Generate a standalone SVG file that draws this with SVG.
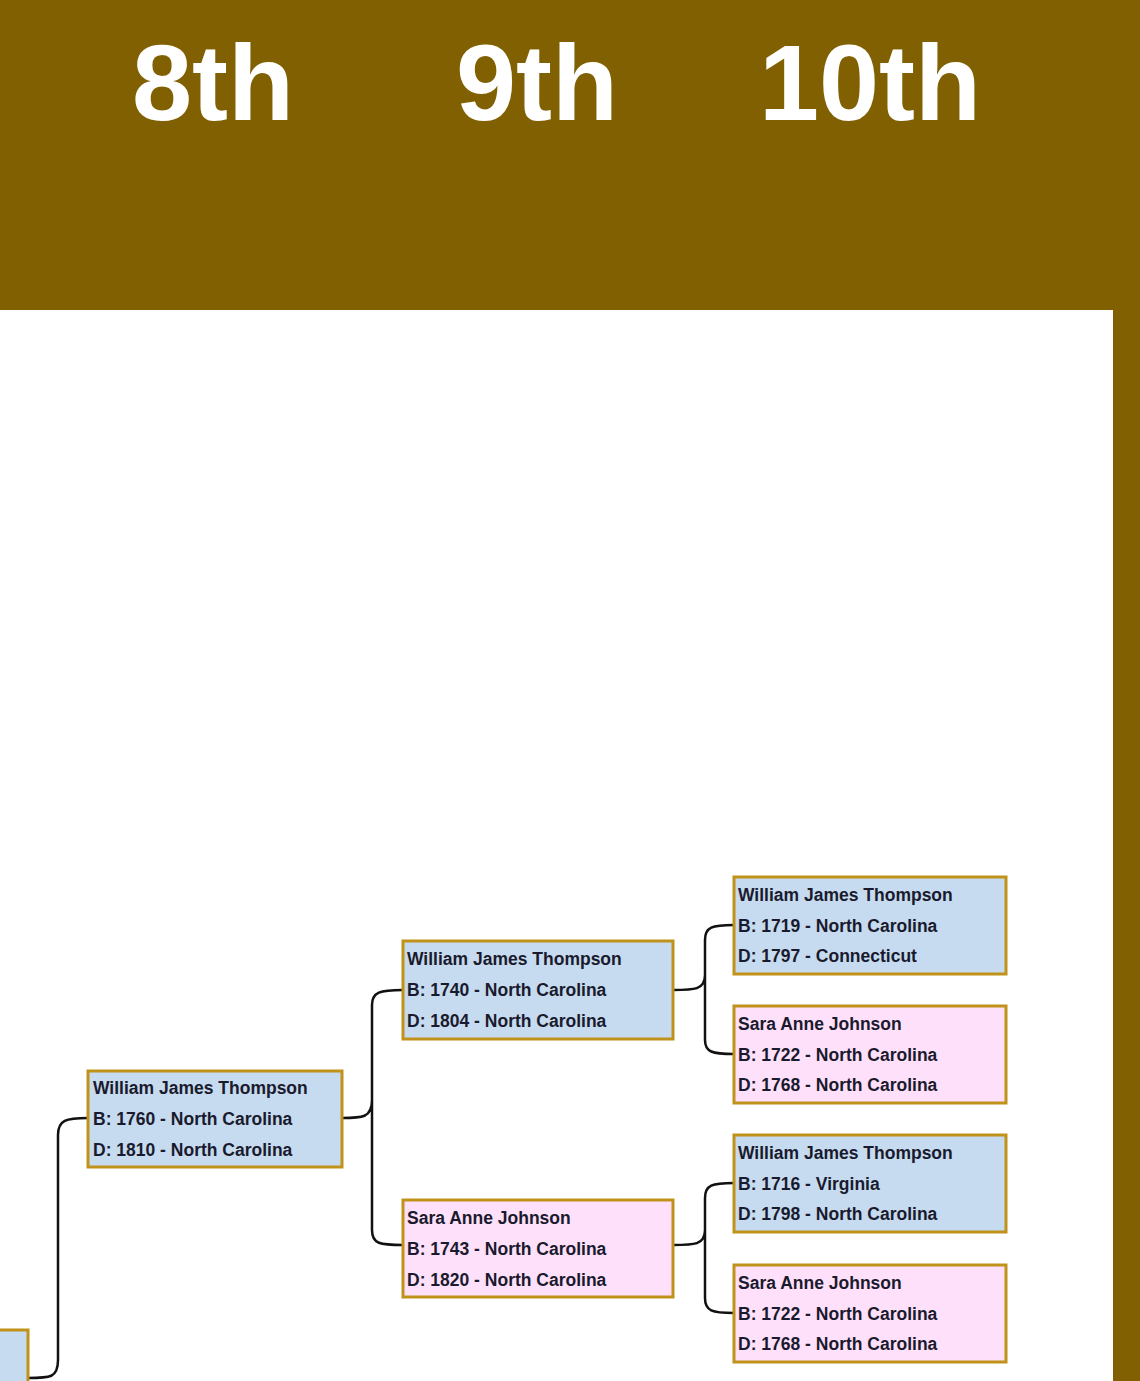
<svg xmlns="http://www.w3.org/2000/svg" width="1140" height="1381" viewBox="0 0 1140 1381">
<style>
.h{font-family:"Liberation Sans",Arial,sans-serif;font-weight:bold;font-size:108px;fill:#fff;text-anchor:middle}
.t{font-family:"Liberation Sans",Arial,sans-serif;font-weight:bold;font-size:17.5px;fill:#1a1a2e}
.m{fill:#c6dbef;stroke:#c0921a;stroke-width:3}
.f{fill:#ffe0fa;stroke:#c0921a;stroke-width:3}
.c{fill:none;stroke:#111;stroke-width:2.5}
</style>
<rect width="1140" height="1381" fill="#fff"/>
<rect width="1140" height="310" fill="#806000"/>
<rect x="1113" y="0" width="27" height="1381" fill="#806000"/>
<text class="h" x="213" y="120">8th</text>
<text class="h" x="537" y="120">9th</text>
<text class="h" x="870" y="120">10th</text>
<g id="connectors">
<path class="c" d="M28,1378 C50,1378 58,1378 58,1360 L58,1135 C58,1120 66,1118 88,1118"/>
<path class="c" d="M342,1118 C362,1118 372,1118 372,1100 L372,1005 C372,992 380,990 403,990 M372,1100 L372,1135 L372,1230 C372,1244 380,1245 403,1245"/>
<path class="c" d="M673,990 C694,990 705,990 705,975 L705,940 C705,927 712,925 734,925 M705,975 L705,1040 C705,1052 712,1054 734,1054"/>
<path class="c" d="M673,1245 C694,1245 705,1245 705,1230 L705,1198 C705,1185 712,1183 734,1183 M705,1230 L705,1298 C705,1311 712,1313 734,1313"/>
</g>
<g id="n0"><rect class="m" x="-5" y="1330" width="33" height="60"/></g>
<g id="n8"><rect class="m" x="88" y="1071" width="254" height="96"/>
<text class="t" x="93" y="1094">William James Thompson</text><text class="t" x="93" y="1125">B: 1760 - North Carolina</text><text class="t" x="93" y="1156">D: 1810 - North Carolina</text></g>
<g id="n9a"><rect class="m" x="403" y="941" width="270" height="98"/>
<text class="t" x="407" y="965">William James Thompson</text><text class="t" x="407" y="996">B: 1740 - North Carolina</text><text class="t" x="407" y="1027">D: 1804 - North Carolina</text></g>
<g id="n9b"><rect class="f" x="403" y="1200" width="270" height="97"/>
<text class="t" x="407" y="1224">Sara Anne Johnson</text><text class="t" x="407" y="1255">B: 1743 - North Carolina</text><text class="t" x="407" y="1286">D: 1820 - North Carolina</text></g>
<g id="n10a"><rect class="m" x="734" y="877" width="272" height="97"/>
<text class="t" x="738" y="901">William James Thompson</text><text class="t" x="738" y="932">B: 1719 - North Carolina</text><text class="t" x="738" y="962">D: 1797 - Connecticut</text></g>
<g id="n10b"><rect class="f" x="734" y="1006" width="272" height="97"/>
<text class="t" x="738" y="1030">Sara Anne Johnson</text><text class="t" x="738" y="1061">B: 1722 - North Carolina</text><text class="t" x="738" y="1091">D: 1768 - North Carolina</text></g>
<g id="n10c"><rect class="m" x="734" y="1135" width="272" height="97"/>
<text class="t" x="738" y="1159">William James Thompson</text><text class="t" x="738" y="1190">B: 1716 - Virginia</text><text class="t" x="738" y="1220">D: 1798 - North Carolina</text></g>
<g id="n10d"><rect class="f" x="734" y="1265" width="272" height="97"/>
<text class="t" x="738" y="1289">Sara Anne Johnson</text><text class="t" x="738" y="1320">B: 1722 - North Carolina</text><text class="t" x="738" y="1350">D: 1768 - North Carolina</text></g>
</svg>
